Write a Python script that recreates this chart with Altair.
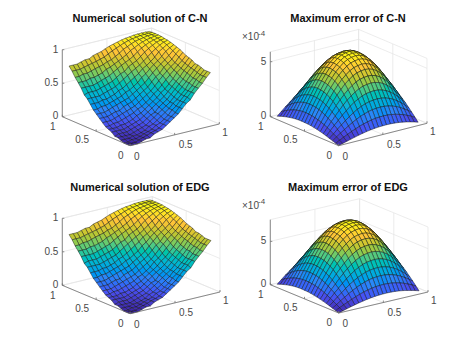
import altair as alt
import pandas as pd

# ---- values ----
titles = ["Numerical solution of C-N", "Maximum error of C-N",
          "Numerical solution of EDG", "Maximum error of EDG"]
# solution height against squared distance from the front corner (one entry per 0.02 of x^2+y^2)
solution_by_radius = [
    0, .021, .042, .063, .084, .105, .126, .147, .168, .189, .21, .232, .254, .276, .298, .32,
    .341, .362, .383, .404, .425, .445, .465, .485, .505, .525, .546, .567, .588, .609, .63,
    .649, .668, .687, .706, .725, .741, .757, .772, .786, .80, .818, .835, .852, .869, .885,
    .899, .913, .926, .938, .95, .959, .967, .975, .983, .99, .994, .998, 1.002, 1.006, 1.01,
    1.013, 1.016, 1.019, 1.022, 1.025, 1.026, 1.027, 1.028, 1.029, 1.03, 1.03, 1.03, 1.03,
    1.03, 1.03, 1.029, 1.028, 1.027, 1.026, 1.025]
solution_top = 1.03
# error bump across one grid direction, relative to the peak
error_bump = [0, .13, .26, .38, .50, .61, .71, .80, .87, .93, .97, .99, 1.0, .99, .96, .91, .84, .75, .64, .52, .38]
error_peak = [6.05, 7.55]   # x 1e-4
error_edge = [0.8, 1.0]     # x 1e-4, height of the middle of the front edges
grid_end = 0.9
z_ticks = [[0, .5, 1], [0, 5], [0, .5, 1], [0, 5]]
parula = ["#3e26a8", "#4852f4", "#2d87f7", "#12b1d6", "#37c897", "#abc739", "#fec338", "#f9fb14"]

# axes corners on the page: front, right, left, and height of one z unit
panels = [
    dict(F=(122, 137.7), R=(211.3, 116), L=(54.3, 108.7), zu=67, ztop=1),
    dict(F=(330.7, 137.7), R=(419, 115.3), L=(262.3, 108.7), zu=11, ztop=5.9),
    dict(F=(122, 305.7), R=(212, 284), L=(54.3, 277.3), zu=67, ztop=1),
    dict(F=(330.7, 305), R=(420, 284), L=(262.3, 276.7), zu=8.67, ztop=7.5),
]


def proj(p, x, y, z):
    return [p["F"][0] + x * (p["R"][0] - p["F"][0]) + y * (p["L"][0] - p["F"][0]),
            p["F"][1] + x * (p["R"][1] - p["F"][1]) + y * (p["L"][1] - p["F"][1]) - z * p["zu"]]


def line(coords):
    return {"type": "Feature", "properties": {}, "geometry": {"type": "LineString", "coordinates": coords}}


N = len(error_bump) - 1


def height(k, i, j):
    if k % 2 == 0:
        return solution_by_radius[round((i * i + j * j) / 10)]
    e = (k - 1) // 2
    pi_, pj = error_bump[i], error_bump[j]
    return error_peak[e] * pi_ * pj + error_edge[e] * ((1 - pi_) * pj + (1 - pj) * pi_)


surface, walls, axes = [], [], []
texts = []
for k, p in enumerate(panels):
    zmax = solution_top if k % 2 == 0 else error_peak[(k - 1) // 2]
    cells = sorted(((i, j) for i in range(N) for j in range(N)), key=lambda c: -(c[0] + c[1]))
    for i, j in cells:
        pts = []
        zs = []
        for a, b in [(i, j), (i + 1, j), (i + 1, j + 1), (i, j + 1), (i, j)]:
            z = height(k, a, b)
            zs.append(z)
            pts.append(proj(p, a / N * grid_end, b / N * grid_end, z))
        c = sum(zs[:4]) / 4 / zmax
        surface.append({"type": "Feature", "properties": {"c": c},
                        "geometry": {"type": "Polygon", "coordinates": [pts]}})
    top = p["ztop"]
    # back walls and floor grid
    for t in [0, .5, 1]:
        walls.append(line([proj(p, t, 1, 0), proj(p, t, 1, top)]))
        walls.append(line([proj(p, 1, t, 0), proj(p, 1, t, top)]))
        walls.append(line([proj(p, t, 0, 0), proj(p, t, 1, 0)]))
        walls.append(line([proj(p, 0, t, 0), proj(p, 1, t, 0)]))
    for zt in z_ticks[k] + [top]:
        walls.append(line([proj(p, 0, 1, zt), proj(p, 1, 1, zt), proj(p, 1, 0, zt)]))
    # front axes and z axis
    axes.append(line([proj(p, 0, 1, 0), proj(p, 0, 0, 0), proj(p, 1, 0, 0)]))
    axes.append(line([proj(p, 0, 1, 0), proj(p, 0, 1, top)]))
    for zt in z_ticks[k]:
        a = proj(p, 0, 1, zt)
        axes.append(line([a, [a[0] + 2, a[1]]]))
        texts.append(dict(x=a[0] - 4, y=a[1] - (0.8 if zt == 0 else 0), t=str(zt), align="right"))
    for t in [0, .5, 1]:
        a = proj(p, t, 0, 0)
        b = proj(p, 0, t, 0)
        axes.append(line([a, [a[0], a[1] - 2]]))
        axes.append(line([b, [b[0], b[1] - 2]]))
        lab = {0: "0", .5: "0.5", 1: "1"}[t]
        ox = {0: 6.7, .5: 11, 1: 5.7}[t]
        oy = {0: 11, .5: 10, 1: 9}[t]
        texts.append(dict(x=a[0] + ox, y=a[1] + oy, t=lab, align="center"))
        ox = {0: -9.3, .5: -14, 1: -9.5}[t]
        oy = {0: 10.3, .5: 9, 1: 10.2}[t]
        texts.append(dict(x=b[0] + ox, y=b[1] + oy, t=lab, align="center"))

title_pos = [(132, 11), (340, 11), (132, 180), (340, 180)]
title_df = pd.DataFrame({"x": [q[0] for q in title_pos], "y": [q[1] for q in title_pos], "t": titles})
mult_df = pd.DataFrame({"x": [234, 234], "y": [29, 197.7], "t": ["×10", "×10"]})
exp_df = pd.DataFrame({"x": [250, 250], "y": [25.5, 194], "t": ["-4", "-4"]})
tick_df = pd.DataFrame(texts)
X = alt.X("x:Q", scale=None, axis=None)
Y = alt.Y("y:Q", scale=None, axis=None)
geo = dict(type="identity", scale=1, translate=[0, 0])

wall_layer = alt.Chart(alt.Data(values=walls)).mark_geoshape(filled=False, stroke="#e4e4e4", strokeWidth=0.7).project(**geo)
surf_layer = alt.Chart(alt.Data(values=surface)).mark_geoshape(stroke="#101010", strokeWidth=0.6, strokeOpacity=0.75).encode(
    color=alt.Color("properties.c:Q", scale=alt.Scale(domain=[i / 7 for i in range(8)], range=parula), legend=None)
).project(**geo)
axis_layer = alt.Chart(alt.Data(values=axes)).mark_geoshape(filled=False, stroke="#6e6e6e", strokeWidth=0.8).project(**geo)

font = "Liberation Sans"
right_ticks = alt.Chart(tick_df[tick_df["align"] == "right"]).mark_text(font=font, fontSize=10, color="#4a4a4a", baseline="middle", align="right").encode(x=X, y=Y, text="t:N")
center_ticks = alt.Chart(tick_df[tick_df["align"] == "center"]).mark_text(font=font, fontSize=10, color="#4a4a4a", baseline="middle", align="center").encode(x=X, y=Y, text="t:N")
title_layer = alt.Chart(title_df).mark_text(font=font, fontSize=11, fontWeight="bold", color="#111111", baseline="middle", align="center").encode(x=X, y=Y, text="t:N")
mult_layer = alt.Chart(mult_df).mark_text(font=font, fontSize=10, color="#4a4a4a", baseline="middle", align="left").encode(x=X, y=Y, text="t:N")
exp_layer = alt.Chart(exp_df).mark_text(font=font, fontSize=8, color="#4a4a4a", baseline="middle", align="left").encode(x=X, y=Y, text="t:N")

chart = alt.layer(wall_layer, surf_layer, axis_layer, right_ticks, center_ticks, title_layer, mult_layer, exp_layer).properties(
    width=458, height=339, padding=0, autosize=alt.AutoSizeParams(type="none"), background="white"
).configure_view(stroke=None)
chart.save("out.html", embed_options={"renderer": "svg", "actions": False})
